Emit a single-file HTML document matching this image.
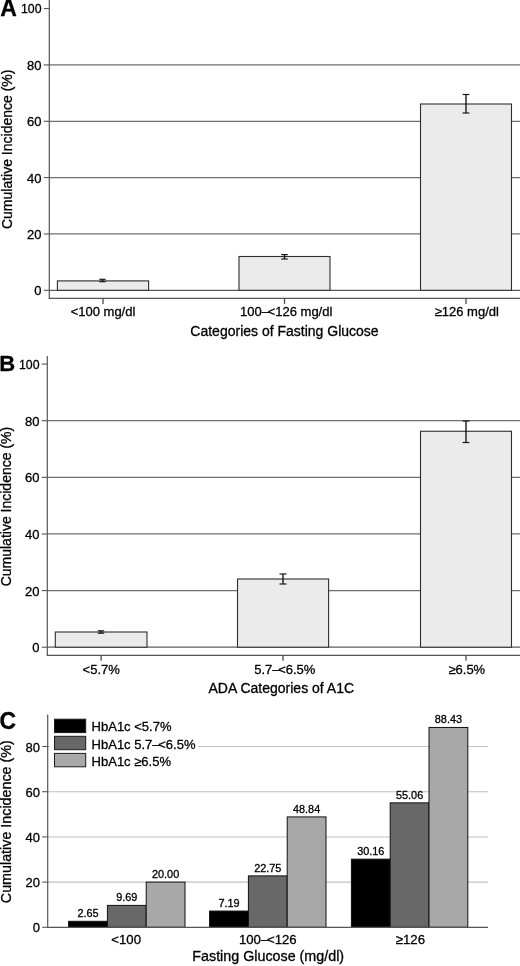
<!DOCTYPE html>
<html lang="en"><head><meta charset="utf-8"><title>Cumulative incidence figure</title>
<style>
html,body{margin:0;padding:0;background:#fff;}
body{width:520px;height:966px;overflow:hidden;}
svg{display:block;font-family:"Liberation Sans", Arial, Helvetica, sans-serif;fill:#000;}
text{stroke:#000;stroke-width:.3px;}
</style></head><body>
<svg width="520" height="966" viewBox="0 0 520 966">
<rect x="0" y="0" width="520" height="966" fill="#ffffff"/>
<line x1="49.30" y1="290.30" x2="520.00" y2="290.30" stroke="#5c5c5c" stroke-width="1.25"/>
<line x1="49.30" y1="233.95" x2="520.00" y2="233.95" stroke="#6f6f6f" stroke-width="1.25"/>
<line x1="49.30" y1="177.60" x2="520.00" y2="177.60" stroke="#6f6f6f" stroke-width="1.25"/>
<line x1="49.30" y1="121.25" x2="520.00" y2="121.25" stroke="#6f6f6f" stroke-width="1.25"/>
<line x1="49.30" y1="64.90" x2="520.00" y2="64.90" stroke="#6f6f6f" stroke-width="1.25"/>
<rect x="57.40" y="280.90" width="91.20" height="9.40" fill="#ebebeb" stroke="#2e2e2e" stroke-width="1.1"/>
<rect x="239.00" y="256.50" width="91.00" height="33.80" fill="#ebebeb" stroke="#2e2e2e" stroke-width="1.1"/>
<rect x="420.50" y="104.00" width="91.00" height="186.30" fill="#ebebeb" stroke="#2e2e2e" stroke-width="1.1"/>
<line x1="102.50" y1="279.30" x2="102.50" y2="281.70" stroke="#0a0a0a" stroke-width="1.3"/>
<line x1="99.30" y1="279.30" x2="105.70" y2="279.30" stroke="#1a1a1a" stroke-width="1.2"/>
<line x1="99.30" y1="281.70" x2="105.70" y2="281.70" stroke="#1a1a1a" stroke-width="1.2"/>
<line x1="284.50" y1="254.60" x2="284.50" y2="259.00" stroke="#0a0a0a" stroke-width="1.3"/>
<line x1="281.20" y1="254.60" x2="287.80" y2="254.60" stroke="#1a1a1a" stroke-width="1.2"/>
<line x1="281.20" y1="259.00" x2="287.80" y2="259.00" stroke="#1a1a1a" stroke-width="1.2"/>
<line x1="466.00" y1="94.50" x2="466.00" y2="113.00" stroke="#0a0a0a" stroke-width="1.3"/>
<line x1="462.60" y1="94.50" x2="469.40" y2="94.50" stroke="#1a1a1a" stroke-width="1.2"/>
<line x1="462.60" y1="113.00" x2="469.40" y2="113.00" stroke="#1a1a1a" stroke-width="1.2"/>
<line x1="49.30" y1="0.00" x2="49.30" y2="298.90" stroke="#555555" stroke-width="1.2"/>
<line x1="48.80" y1="298.40" x2="520.00" y2="298.40" stroke="#555555" stroke-width="1.2"/>
<line x1="43.80" y1="290.30" x2="49.30" y2="290.30" stroke="#555555" stroke-width="1.1"/>
<text x="41.5" y="295.3" font-size="13" text-anchor="end">0</text>
<line x1="43.80" y1="233.95" x2="49.30" y2="233.95" stroke="#555555" stroke-width="1.1"/>
<text x="41.5" y="239.0" font-size="13" text-anchor="end">20</text>
<line x1="43.80" y1="177.60" x2="49.30" y2="177.60" stroke="#555555" stroke-width="1.1"/>
<text x="41.5" y="182.6" font-size="13" text-anchor="end">40</text>
<line x1="43.80" y1="121.25" x2="49.30" y2="121.25" stroke="#555555" stroke-width="1.1"/>
<text x="41.5" y="126.3" font-size="13" text-anchor="end">60</text>
<line x1="43.80" y1="64.90" x2="49.30" y2="64.90" stroke="#555555" stroke-width="1.1"/>
<text x="41.5" y="69.9" font-size="13" text-anchor="end">80</text>
<line x1="43.80" y1="8.55" x2="49.30" y2="8.55" stroke="#555555" stroke-width="1.1"/>
<text x="41.5" y="13.2" font-size="12.3" text-anchor="end">100</text>
<line x1="103.00" y1="298.40" x2="103.00" y2="303.90" stroke="#444444" stroke-width="1.25"/>
<text x="103.0" y="316.3" font-size="13" text-anchor="middle">&lt;100 mg/dl</text>
<line x1="284.50" y1="298.40" x2="284.50" y2="303.90" stroke="#444444" stroke-width="1.25"/>
<text x="286.2" y="316.3" font-size="13" text-anchor="middle">100–<tspan dx="-1.3">&lt;</tspan>126 mg/dl</text>
<line x1="466.00" y1="298.40" x2="466.00" y2="303.90" stroke="#444444" stroke-width="1.25"/>
<text x="466.8" y="316.3" font-size="13" text-anchor="middle">≥126 mg/dl</text>
<text x="284.5" y="336.3" font-size="14" text-anchor="middle">Categories of Fasting Glucose</text>
<text x="0" y="0" font-size="14" text-anchor="middle" transform="translate(11.5,149.3) rotate(-90)">Cumulative Incidence (%)</text>
<text x="0.3" y="15.9" font-size="23" text-anchor="start" font-weight="bold" stroke-width="0.5">A</text>
<line x1="47.30" y1="647.20" x2="520.00" y2="647.20" stroke="#5c5c5c" stroke-width="1.25"/>
<line x1="47.30" y1="590.58" x2="520.00" y2="590.58" stroke="#6f6f6f" stroke-width="1.25"/>
<line x1="47.30" y1="533.96" x2="520.00" y2="533.96" stroke="#6f6f6f" stroke-width="1.25"/>
<line x1="47.30" y1="477.34" x2="520.00" y2="477.34" stroke="#6f6f6f" stroke-width="1.25"/>
<line x1="47.30" y1="420.72" x2="520.00" y2="420.72" stroke="#6f6f6f" stroke-width="1.25"/>
<rect x="55.30" y="632.00" width="91.70" height="15.20" fill="#ebebeb" stroke="#2e2e2e" stroke-width="1.1"/>
<rect x="237.50" y="579.00" width="91.10" height="68.20" fill="#ebebeb" stroke="#2e2e2e" stroke-width="1.1"/>
<rect x="420.50" y="431.25" width="91.00" height="215.95" fill="#ebebeb" stroke="#2e2e2e" stroke-width="1.1"/>
<line x1="101.00" y1="630.80" x2="101.00" y2="633.20" stroke="#0a0a0a" stroke-width="1.3"/>
<line x1="97.80" y1="630.80" x2="104.20" y2="630.80" stroke="#1a1a1a" stroke-width="1.2"/>
<line x1="97.80" y1="633.20" x2="104.20" y2="633.20" stroke="#1a1a1a" stroke-width="1.2"/>
<line x1="283.00" y1="574.00" x2="283.00" y2="584.00" stroke="#0a0a0a" stroke-width="1.3"/>
<line x1="279.50" y1="574.00" x2="286.50" y2="574.00" stroke="#1a1a1a" stroke-width="1.2"/>
<line x1="279.50" y1="584.00" x2="286.50" y2="584.00" stroke="#1a1a1a" stroke-width="1.2"/>
<line x1="466.00" y1="421.00" x2="466.00" y2="442.50" stroke="#0a0a0a" stroke-width="1.3"/>
<line x1="462.60" y1="421.00" x2="469.40" y2="421.00" stroke="#1a1a1a" stroke-width="1.2"/>
<line x1="462.60" y1="442.50" x2="469.40" y2="442.50" stroke="#1a1a1a" stroke-width="1.2"/>
<line x1="47.30" y1="356.00" x2="47.30" y2="655.80" stroke="#555555" stroke-width="1.2"/>
<line x1="46.80" y1="655.30" x2="520.00" y2="655.30" stroke="#555555" stroke-width="1.2"/>
<line x1="41.80" y1="647.20" x2="47.30" y2="647.20" stroke="#555555" stroke-width="1.1"/>
<text x="39.5" y="652.2" font-size="13" text-anchor="end">0</text>
<line x1="41.80" y1="590.58" x2="47.30" y2="590.58" stroke="#555555" stroke-width="1.1"/>
<text x="39.5" y="595.6" font-size="13" text-anchor="end">20</text>
<line x1="41.80" y1="533.96" x2="47.30" y2="533.96" stroke="#555555" stroke-width="1.1"/>
<text x="39.5" y="539.0" font-size="13" text-anchor="end">40</text>
<line x1="41.80" y1="477.34" x2="47.30" y2="477.34" stroke="#555555" stroke-width="1.1"/>
<text x="39.5" y="482.3" font-size="13" text-anchor="end">60</text>
<line x1="41.80" y1="420.72" x2="47.30" y2="420.72" stroke="#555555" stroke-width="1.1"/>
<text x="39.5" y="425.7" font-size="13" text-anchor="end">80</text>
<line x1="41.80" y1="364.10" x2="47.30" y2="364.10" stroke="#555555" stroke-width="1.1"/>
<text x="39.5" y="368.7" font-size="12.3" text-anchor="end">100</text>
<line x1="101.15" y1="655.30" x2="101.15" y2="660.80" stroke="#444444" stroke-width="1.25"/>
<text x="101.2" y="674.3" font-size="13" text-anchor="middle">&lt;5.7%</text>
<line x1="283.05" y1="655.30" x2="283.05" y2="660.80" stroke="#444444" stroke-width="1.25"/>
<text x="284.8" y="674.3" font-size="13" text-anchor="middle">5.7–<tspan dx="-1.3">&lt;</tspan>6.5%</text>
<line x1="466.00" y1="655.30" x2="466.00" y2="660.80" stroke="#444444" stroke-width="1.25"/>
<text x="466.8" y="674.3" font-size="13" text-anchor="middle">≥6.5%</text>
<text x="281.3" y="692.7" font-size="14" text-anchor="middle">ADA Categories of A1C</text>
<text x="0" y="0" font-size="14" text-anchor="middle" transform="translate(11.3,506.6) rotate(-90)">Cumulative Incidence (%)</text>
<text x="-0.8" y="371.3" font-size="22" text-anchor="start" font-weight="bold" stroke-width="0.5">B</text>
<line x1="47.70" y1="882.10" x2="488.00" y2="882.10" stroke="#c2c2c2" stroke-width="1.05"/>
<line x1="47.70" y1="836.90" x2="488.00" y2="836.90" stroke="#c2c2c2" stroke-width="1.05"/>
<line x1="47.70" y1="791.70" x2="488.00" y2="791.70" stroke="#c2c2c2" stroke-width="1.05"/>
<line x1="47.70" y1="746.50" x2="488.00" y2="746.50" stroke="#c2c2c2" stroke-width="1.05"/>
<rect x="50.00" y="716.00" width="148.00" height="54.00" fill="#ffffff"/>
<rect x="68.60" y="921.31" width="38.80" height="5.99" fill="#000000" stroke="#111111" stroke-width="1"/>
<text x="88.0" y="917.0" font-size="10.9" text-anchor="middle" stroke-width="0.12">2.65</text>
<rect x="107.40" y="905.40" width="38.80" height="21.90" fill="#686868" stroke="#111111" stroke-width="1"/>
<text x="126.8" y="901.1" font-size="10.9" text-anchor="middle" stroke-width="0.12">9.69</text>
<rect x="146.20" y="882.10" width="38.80" height="45.20" fill="#a8a8a8" stroke="#111111" stroke-width="1"/>
<text x="165.6" y="877.8" font-size="10.9" text-anchor="middle" stroke-width="0.12">20.00</text>
<rect x="209.60" y="911.05" width="38.80" height="16.25" fill="#000000" stroke="#111111" stroke-width="1"/>
<text x="229.0" y="906.8" font-size="10.9" text-anchor="middle" stroke-width="0.12">7.19</text>
<rect x="248.40" y="875.88" width="38.80" height="51.41" fill="#686868" stroke="#111111" stroke-width="1"/>
<text x="267.8" y="871.6" font-size="10.9" text-anchor="middle" stroke-width="0.12">22.75</text>
<rect x="287.20" y="816.92" width="38.80" height="110.38" fill="#a8a8a8" stroke="#111111" stroke-width="1"/>
<text x="306.6" y="812.6" font-size="10.9" text-anchor="middle" stroke-width="0.12">48.84</text>
<rect x="351.40" y="859.14" width="38.80" height="68.16" fill="#000000" stroke="#111111" stroke-width="1"/>
<text x="370.8" y="854.8" font-size="10.9" text-anchor="middle" stroke-width="0.12">30.16</text>
<rect x="390.20" y="802.86" width="38.80" height="124.44" fill="#686868" stroke="#111111" stroke-width="1"/>
<text x="409.6" y="798.6" font-size="10.9" text-anchor="middle" stroke-width="0.12">55.06</text>
<rect x="429.00" y="727.45" width="38.80" height="199.85" fill="#a8a8a8" stroke="#111111" stroke-width="1"/>
<text x="448.4" y="723.1" font-size="10.9" text-anchor="middle" stroke-width="0.12">88.43</text>
<line x1="47.70" y1="714.50" x2="47.70" y2="927.80" stroke="#555555" stroke-width="1.2"/>
<line x1="47.20" y1="927.30" x2="488.00" y2="927.30" stroke="#555555" stroke-width="1.2"/>
<line x1="42.20" y1="927.30" x2="47.70" y2="927.30" stroke="#555555" stroke-width="1.1"/>
<text x="39.9" y="932.3" font-size="13" text-anchor="end">0</text>
<line x1="42.20" y1="882.10" x2="47.70" y2="882.10" stroke="#555555" stroke-width="1.1"/>
<text x="39.9" y="887.1" font-size="13" text-anchor="end">20</text>
<line x1="42.20" y1="836.90" x2="47.70" y2="836.90" stroke="#555555" stroke-width="1.1"/>
<text x="39.9" y="841.9" font-size="13" text-anchor="end">40</text>
<line x1="42.20" y1="791.70" x2="47.70" y2="791.70" stroke="#555555" stroke-width="1.1"/>
<text x="39.9" y="796.7" font-size="13" text-anchor="end">60</text>
<line x1="42.20" y1="746.50" x2="47.70" y2="746.50" stroke="#555555" stroke-width="1.1"/>
<text x="39.9" y="751.5" font-size="13" text-anchor="end">80</text>
<text x="126.2" y="943.8" font-size="13.2" text-anchor="middle">&lt;100</text>
<text x="267.8" y="943.8" font-size="13.2" text-anchor="middle">100–<tspan dx="-1.3">&lt;</tspan>126</text>
<text x="410.4" y="943.8" font-size="13.2" text-anchor="middle">≥126</text>
<text x="268.2" y="961.4" font-size="14.3" text-anchor="middle">Fasting Glucose (mg/dl)</text>
<text x="0" y="0" font-size="14.3" text-anchor="middle" transform="translate(10.6,821.7) rotate(-90)">Cumulative Incidence (%)</text>
<text x="-0.4" y="728.8" font-size="23" text-anchor="start" font-weight="bold" stroke-width="0.5">C</text>
<rect x="54.50" y="719.20" width="31.20" height="13.40" fill="#000000" stroke="#1c1c1c" stroke-width="1"/>
<text x="91.6" y="731.4" font-size="13" text-anchor="start">HbA1c &lt;5.7%</text>
<rect x="54.50" y="736.30" width="31.20" height="13.40" fill="#686868" stroke="#1c1c1c" stroke-width="1"/>
<text x="91.6" y="748.5" font-size="13" text-anchor="start">HbA1c 5.7–<tspan dx="-1.3">&lt;</tspan>6.5%</text>
<rect x="54.50" y="753.40" width="31.20" height="13.40" fill="#a8a8a8" stroke="#1c1c1c" stroke-width="1"/>
<text x="91.6" y="765.6" font-size="13" text-anchor="start">HbA1c ≥6.5%</text>
</svg>
</body></html>
